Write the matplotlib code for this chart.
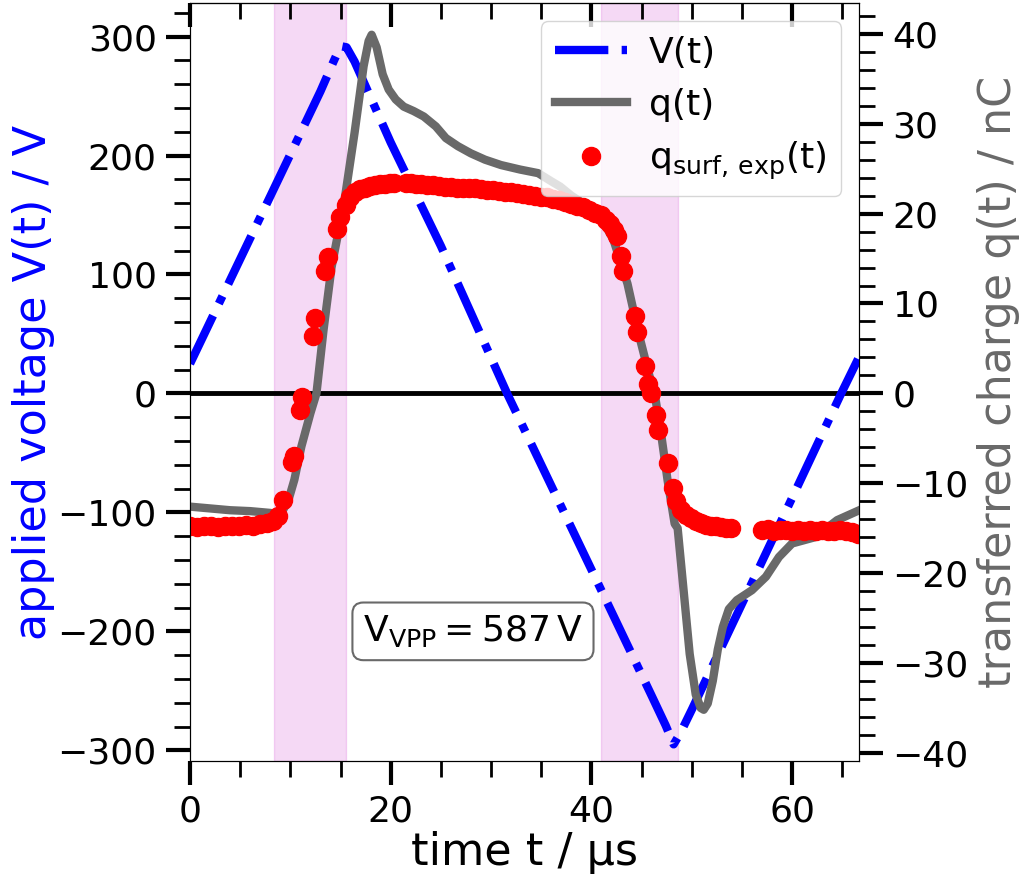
import matplotlib
matplotlib.use('Agg')
import matplotlib.pyplot as plt
from matplotlib.ticker import MultipleLocator

# applied voltage V(t)
v_t = [0, 5, 10, 13, 14.3, 15.0, 15.6, 16.4, 20, 25, 31.6, 40, 46, 47.4, 48.2,
       48.9, 50, 55, 60, 64.9, 66.7]
v_val = [25, 113, 201, 254, 279, 292, 291, 279, 211, 124, 0, -148, -254, -279, -295,
         -285, -266, -177, -88, 0, 31]

# transferred charge q(t)
q_t = [0, 2, 4, 6, 8, 8.5, 9.3, 9.8, 10.4, 11.1, 12.0, 12.6, 13.3, 14.1, 15.4, 16.4,
       17.3, 17.8, 18.1, 18.6, 19.2, 19.8, 20.5, 21.3, 22.3, 23.3, 24.5, 25.5, 26.7,
       28.0, 29.4, 31.0, 32.9, 34.7, 36.0, 36.9, 38.0, 39.1, 40.0, 40.9, 41.6, 42.2,
       42.8, 43.6, 44.7, 45.8, 46.3, 46.9, 47.6, 48.3, 48.6, 49.2, 49.8, 50.4, 50.9,
       51.2, 51.6, 52.1, 52.6, 53.1, 53.7, 54.5, 56.0, 57.4, 58.7, 60.0, 62.3, 64.5, 66.7]
q_val = [-12.6, -12.8, -13.0, -13.1, -13.3, -13.4, -12.9, -11.9, -9.6, -5.9, -2.2, 0.0,
         7.0, 14.0, 21.5, 29.0, 36.4, 39.2, 39.9, 38.5, 35.5, 33.8, 32.7, 31.9, 31.4,
         30.8, 29.7, 28.4, 27.5, 26.7, 26.0, 25.4, 24.9, 24.5, 23.6, 23.0, 22.0, 21.2,
         20.4, 19.3, 18.3, 17.1, 15.0, 12.2, 6.7, 1.9, 0.0, -4.1, -9.7, -14.5, -15.0,
         -22.0, -29.0, -33.5, -35.0, -35.2, -34.5, -32.0, -28.5, -26.0, -24.0, -23.0,
         -21.9, -20.4, -18.2, -16.7, -16.0, -14.1, -13.0]

# q_surf,exp(t)
s_t = [0.0, 0.7, 1.4, 2.1, 2.8, 3.5, 4.2, 4.9, 5.6, 6.3, 7.0, 7.7, 8.3, 8.8, 9.3, 10.2,
       10.4, 11.0, 11.2, 12.3, 12.5, 13.5, 13.8, 14.6, 14.9, 15.5, 15.9, 16.4, 16.9,
       17.4, 17.9, 18.4, 18.9, 19.4, 19.9, 20.3, 21.5, 22.0, 22.5, 23.0, 23.6, 24.2,
       24.8, 25.4, 26.0, 26.6, 27.2, 27.8, 28.4, 29.0, 29.6, 30.2, 30.8, 31.4, 32.0,
       32.6, 33.2, 33.8, 34.4, 35.0, 35.6, 36.2, 36.8, 37.4, 38.0, 38.6, 39.2, 39.8,
       40.4, 41.0, 41.5, 41.9, 42.3, 42.6, 43.0, 43.2, 44.3, 44.5, 45.3, 45.6, 45.9,
       46.4, 46.6, 47.6, 48.1, 48.4, 48.9, 49.4, 49.9, 50.4, 50.9, 51.4, 51.9, 52.4,
       52.9, 53.4, 53.9, 57.0, 57.6, 58.2, 58.8, 59.4, 60.0, 60.6, 61.2, 61.8, 62.4,
       63.0, 63.6, 64.2, 64.8, 65.4, 66.0, 66.6]
s_val = [-14.8, -14.9, -14.7, -14.8, -14.9, -14.7, -14.8, -14.7, -14.6, -14.7, -14.5,
         -14.4, -14.2, -13.6, -11.9, -7.6, -7.0, -1.9, -0.4, 6.4, 8.4, 13.6, 15.2, 18.3,
         19.6, 21.0, 21.9, 22.4, 22.7, 22.9, 23.1, 23.2, 23.3, 23.3, 23.4, 23.4, 23.4,
         23.4, 23.3, 23.3, 23.2, 23.2, 23.1, 23.0, 23.0, 22.9, 22.9, 22.8, 22.8, 22.7,
         22.6, 22.6, 22.5, 22.4, 22.4, 22.3, 22.2, 22.1, 22.0, 21.9, 21.8, 21.6, 21.5,
         21.3, 21.1, 20.9, 20.7, 20.4, 20.1, 19.8, 19.3, 18.8, 18.2, 17.5, 15.3, 13.6,
         8.6, 6.8, 3.0, 1.0, 0.0, -2.4, -4.1, -7.8, -10.5, -12.0, -13.0, -13.5, -13.9,
         -14.2, -14.4, -14.6, -14.7, -14.8, -14.9, -15.0, -15.0, -15.2, -15.1, -15.3,
         -15.2, -15.2, -15.3, -15.2, -15.3, -15.2, -15.3, -15.2, -15.3, -15.3, -15.2,
         -15.3, -15.4, -15.6]

# discharge windows
bands = [(8.4, 15.5), (41.0, 48.6)]

fig = plt.figure(figsize=(10.25, 8.85), dpi=100)
ax = fig.add_axes([0.1854, 0.1401, 0.8383 - 0.1854, 0.9963 - 0.1401])
ax2 = ax.twinx()

for a, b in bands:
    ax.axvspan(a, b, color='m', alpha=0.15, zorder=0)
ax.axhline(0, color='black', lw=3.5, zorder=1)
l1, = ax.plot(v_t, v_val, color='blue', lw=6, ls='-.', label='V(t)', zorder=2)

l2, = ax2.plot(q_t, q_val, color='dimgray', lw=6, label='q(t)')
l3, = ax2.plot(s_t, s_val, 'o', color='red', ms=13, ls='none',
               label=r'$\mathrm{q_{surf,\,exp}(t)}$')

ax.set_xlim(0, 66.7)
ax.set_ylim(-309, 328)
ax2.set_ylim(-40.9, 43.4)

ax.xaxis.set_major_locator(MultipleLocator(20))
ax.xaxis.set_minor_locator(MultipleLocator(5))
ax.yaxis.set_major_locator(MultipleLocator(100))
ax.yaxis.set_minor_locator(MultipleLocator(20))
ax2.yaxis.set_major_locator(MultipleLocator(10))
ax2.yaxis.set_minor_locator(MultipleLocator(2))

for a in (ax, ax2):
    a.tick_params(which='major', length=17, width=3, labelsize=26, pad=7)
    a.tick_params(which='minor', length=11.5, width=2)

# ticks on top, pointing inwards, no labels
top = ax.secondary_xaxis('top')
top.xaxis.set_major_locator(MultipleLocator(20))
top.xaxis.set_minor_locator(MultipleLocator(5))
top.tick_params(which='major', direction='in', length=17, width=3, labeltop=False)
top.tick_params(which='minor', direction='in', length=11.5, width=2)

ax.set_xlabel('time t / µs', fontsize=32, labelpad=2)
ax.set_ylabel('applied voltage V(t) / V', fontsize=32, color='blue', labelpad=2)
ax2.set_ylabel('transferred charge q(t) / nC', fontsize=32, color='dimgray', labelpad=6)

ax.text(28.2, -200, r'$\mathrm{V_{VPP}} = 587\,\mathrm{V}$', fontsize=26,
        ha='center', va='center', zorder=5,
        bbox=dict(boxstyle='round,pad=0.3', fc='white', ec='dimgray', lw=1.5))

ax2.legend(handles=[l1, l2, l3], loc='upper right', fontsize=26, handletextpad=0.6)

fig.savefig('out.png', dpi=100)
